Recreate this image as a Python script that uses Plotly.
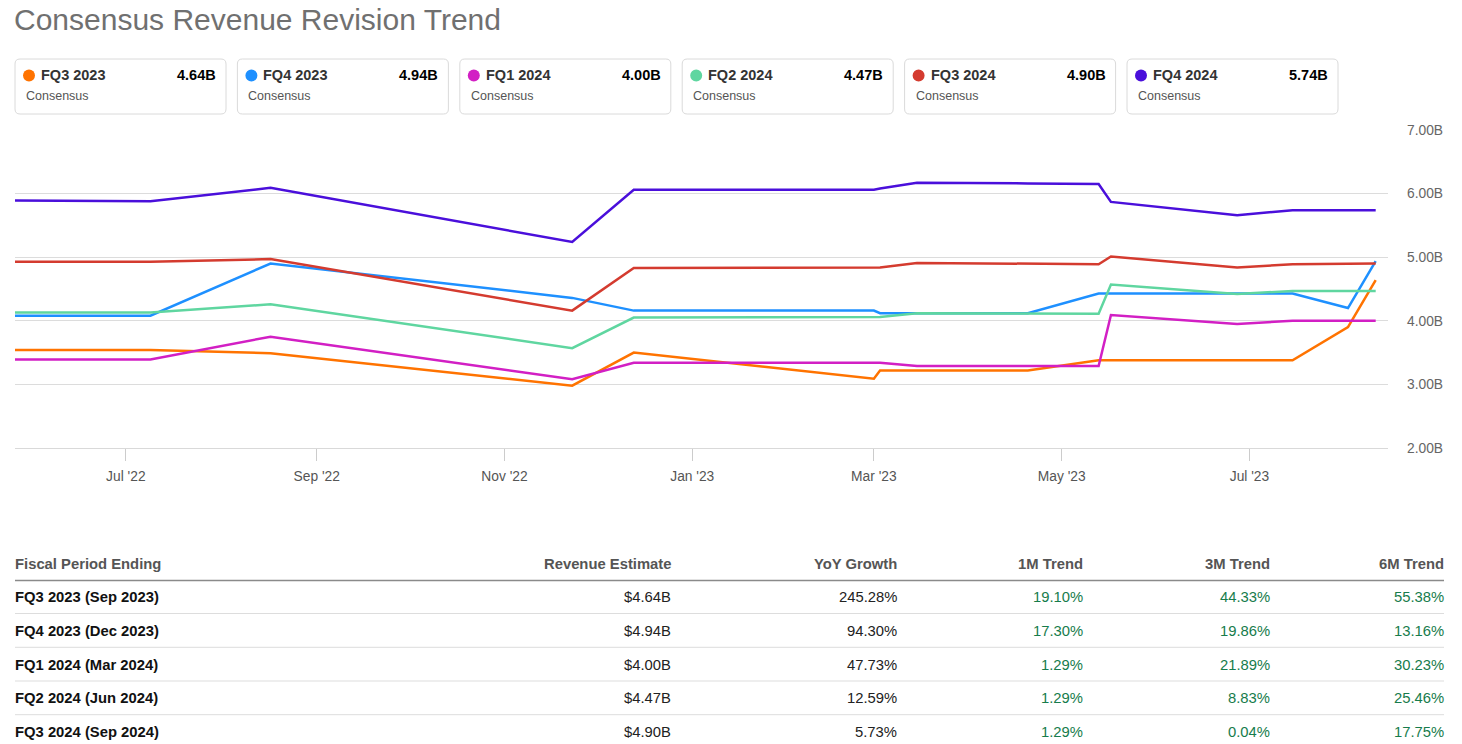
import plotly.graph_objects as go

W, H = 1462, 744
FONT = "Arial, 'Liberation Sans', Helvetica, sans-serif"

# ---------------- data ----------------
dates = ["2022-05-26", "2022-07-09", "2022-08-17", "2022-11-23", "2022-12-13",
         "2023-03-01", "2023-03-03", "2023-03-15", "2023-04-20", "2023-05-13",
         "2023-05-17", "2023-06-27", "2023-07-15", "2023-08-02", "2023-08-11"]

fq3_2023 = [3.54, 3.54, 3.49, 2.98, 3.50, 3.09, 3.22, 3.22, 3.22, 3.38, 3.38, 3.38, 3.38, 3.90, 4.64]
fq4_2023 = [4.08, 4.08, 4.90, 4.36, 4.16, 4.16, 4.12, 4.12, 4.12, 4.43, 4.43, 4.43, 4.43, 4.20, 4.94]
fq1_2024 = [3.39, 3.39, 3.75, 3.08, 3.34, 3.34, 3.34, 3.29, 3.29, 3.29, 4.09, 3.95, 4.00, 4.00, 4.00]
fq2_2024 = [4.13, 4.13, 4.26, 3.57, 4.05, 4.05, 4.06, 4.12, 4.11, 4.11, 4.57, 4.42, 4.47, 4.47, 4.47]
fq3_2024 = [4.93, 4.93, 4.97, 4.16, 4.83, 4.83, 4.84, 4.91, 4.90, 4.89, 5.01, 4.84, 4.89, 4.89, 4.90]
fq4_2024 = [5.89, 5.88, 6.09, 5.24, 6.06, 6.06, 6.08, 6.17, 6.16, 6.15, 5.87, 5.66, 5.74, 5.74, 5.74]

series_names = ["FQ3 2023", "FQ4 2023", "FQ1 2024", "FQ2 2024", "FQ3 2024", "FQ4 2024"]
series_values = [fq3_2023, fq4_2023, fq1_2024, fq2_2024, fq3_2024, fq4_2024]
series_colors = ["#FF7300", "#1E90FF", "#D21FC4", "#5FD6A0", "#D43B2F", "#4A0FDB"]
consensus_labels = ["4.64B", "4.94B", "4.00B", "4.47B", "4.90B", "5.74B"]

y_ticks = [2, 3, 4, 5, 6, 7]
y_tick_text = ["2.00B", "3.00B", "4.00B", "5.00B", "6.00B", "7.00B"]

table_headers = ["Fiscal Period Ending", "Revenue Estimate", "YoY Growth", "1M Trend", "3M Trend", "6M Trend"]
periods = ["FQ3 2023 (Sep 2023)", "FQ4 2023 (Dec 2023)", "FQ1 2024 (Mar 2024)",
           "FQ2 2024 (Jun 2024)", "FQ3 2024 (Sep 2024)"]
revenue_estimate = ["$4.64B", "$4.94B", "$4.00B", "$4.47B", "$4.90B"]
yoy_growth = ["245.28%", "94.30%", "47.73%", "12.59%", "5.73%"]
trend_1m = ["19.10%", "17.30%", "1.29%", "1.29%", "1.29%"]
trend_3m = ["44.33%", "19.86%", "21.89%", "8.83%", "0.04%"]
trend_6m = ["55.38%", "13.16%", "30.23%", "25.46%", "17.75%"]


# ---------------- helpers ----------------
def px(x):
    return x / W


def py(y):
    return 1 - y / H


def rounded_rect(x0, y0, x1, y1, r):
    pts = [
        f"M {px(x0 + r)},{py(y0)}",
        f"L {px(x1 - r)},{py(y0)}",
        f"Q {px(x1)},{py(y0)} {px(x1)},{py(y0 + r)}",
        f"L {px(x1)},{py(y1 - r)}",
        f"Q {px(x1)},{py(y1)} {px(x1 - r)},{py(y1)}",
        f"L {px(x0 + r)},{py(y1)}",
        f"Q {px(x0)},{py(y1)} {px(x0)},{py(y1 - r)}",
        f"L {px(x0)},{py(y0 + r)}",
        f"Q {px(x0)},{py(y0)} {px(x0 + r)},{py(y0)}",
        "Z",
    ]
    return " ".join(pts)


fig = go.Figure()

for name, vals, col in zip(series_names, series_values, series_colors):
    fig.add_trace(go.Scatter(x=dates, y=vals, mode="lines", name=name,
                             line=dict(color=col, width=2.5), hoverinfo="skip"))

# plot area in pixels
PL, PR, PT, PB = 15, 1388, 130, 448

shapes = []
annotations = []

# title
annotations.append(dict(xref="paper", yref="paper", x=px(12), y=py(20), xanchor="left", yanchor="middle",
                        text="Consensus Revenue Revision Trend", showarrow=False,
                        font=dict(family=FONT, size=30, color="#707070")))

# legend cards
card_w, card_gap = 211, 222.4
for i, (name, lab, col) in enumerate(zip(series_names, consensus_labels, series_colors)):
    x0 = 15 + i * card_gap
    shapes.append(dict(type="path", path=rounded_rect(x0, 59, x0 + card_w, 114, 5), xref="paper", yref="paper",
                       line=dict(color="#dadada", width=1), fillcolor="white", layer="below"))
    cx, cy, r = x0 + 14, 75.5, 6
    shapes.append(dict(type="circle", xref="paper", yref="paper", x0=px(cx - r), x1=px(cx + r),
                       y0=py(cy + r), y1=py(cy - r), fillcolor=col, line=dict(width=0)))
    annotations.append(dict(xref="paper", yref="paper", x=px(x0 + 24), y=py(75.5), xanchor="left", yanchor="middle",
                            text=f"<b>{name}</b>", showarrow=False,
                            font=dict(family=FONT, size=14.5, color="#333333")))
    annotations.append(dict(xref="paper", yref="paper", x=px(x0 + card_w - 8), y=py(75.5), xanchor="right",
                            yanchor="middle", text=f"<b>{lab}</b>", showarrow=False,
                            font=dict(family=FONT, size=14.5, color="#000000")))
    annotations.append(dict(xref="paper", yref="paper", x=px(x0 + 9), y=py(95.5), xanchor="left",
                            yanchor="middle", text="Consensus", showarrow=False,
                            font=dict(family=FONT, size=12.5, color="#555555")))

# table
col_x = [13, 673, 899, 1085, 1272, 1446]
col_anchor = ["left", "right", "right", "right", "right", "right"]
header_y = 564
row_y = [597.3, 631, 664.7, 698.3, 732]
sep_y = [613.5, 647.3, 681, 714.7]

for hx, anc, htxt in zip(col_x, col_anchor, table_headers):
    annotations.append(dict(xref="paper", yref="paper", x=px(hx), y=py(header_y), xanchor=anc, yanchor="middle",
                            text=f"<b>{htxt}</b>", showarrow=False,
                            font=dict(family=FONT, size=14.8, color="#555555")))
shapes.append(dict(type="line", xref="paper", yref="paper", x0=px(15), x1=px(1444), y0=py(580.5), y1=py(580.5),
                   line=dict(color="#8a8a8a", width=1.5)))
for sy in sep_y:
    shapes.append(dict(type="line", xref="paper", yref="paper", x0=px(15), x1=px(1444), y0=py(sy), y1=py(sy),
                       line=dict(color="#dddddd", width=1)))

columns = [periods, revenue_estimate, yoy_growth, trend_1m, trend_3m, trend_6m]
col_colors = ["#111111", "#222222", "#222222", "#177c4c", "#177c4c", "#177c4c"]
for ci, (vals, cx, anc, ccol) in enumerate(zip(columns, col_x, col_anchor, col_colors)):
    for ry, v in zip(row_y, vals):
        txt = f"<b>{v}</b>" if ci == 0 else v
        annotations.append(dict(xref="paper", yref="paper", x=px(cx), y=py(ry), xanchor=anc, yanchor="middle",
                                text=txt, showarrow=False,
                                font=dict(family=FONT, size=14.8, color=ccol)))

fig.update_layout(
    width=W, height=H,
    autosize=False,
    margin=dict(l=0, r=0, t=0, b=0, pad=0, autoexpand=False),
    paper_bgcolor="white", plot_bgcolor="white",
    showlegend=False,
    hovermode=False,
    font=dict(family=FONT, color="#666666"),
    shapes=shapes,
    annotations=annotations,
    xaxis=dict(
        domain=[px(PL), px(PR)],
        type="date",
        range=["2022-05-26", "2023-08-15"],
        tick0="2022-07-01", dtick="M2", tickformat="%b '%y",
        ticks="outside", ticklen=12, tickcolor="#cccccc", tickwidth=1,
        ticklabelstandoff=3,
        showgrid=False, showline=True, linecolor="#d9d9d9", linewidth=1,
        tickfont=dict(family=FONT, size=13.8, color="#555555"),
        zeroline=False, fixedrange=True, automargin=False,
    ),
    yaxis=dict(
        domain=[py(PB), py(PT)],
        side="right",
        range=[2, 7],
        tickvals=y_ticks, ticktext=y_tick_text,
        showgrid=True, gridcolor="#dcdcdc", gridwidth=1,
        zeroline=False, showline=False, ticks="",
        ticklabelstandoff=18,
        tickfont=dict(family=FONT, size=13.8, color="#666666"),
        fixedrange=True, automargin=False,
    ),
)

fig.write_html("out.html", config={"displayModeBar": False, "responsive": False})
